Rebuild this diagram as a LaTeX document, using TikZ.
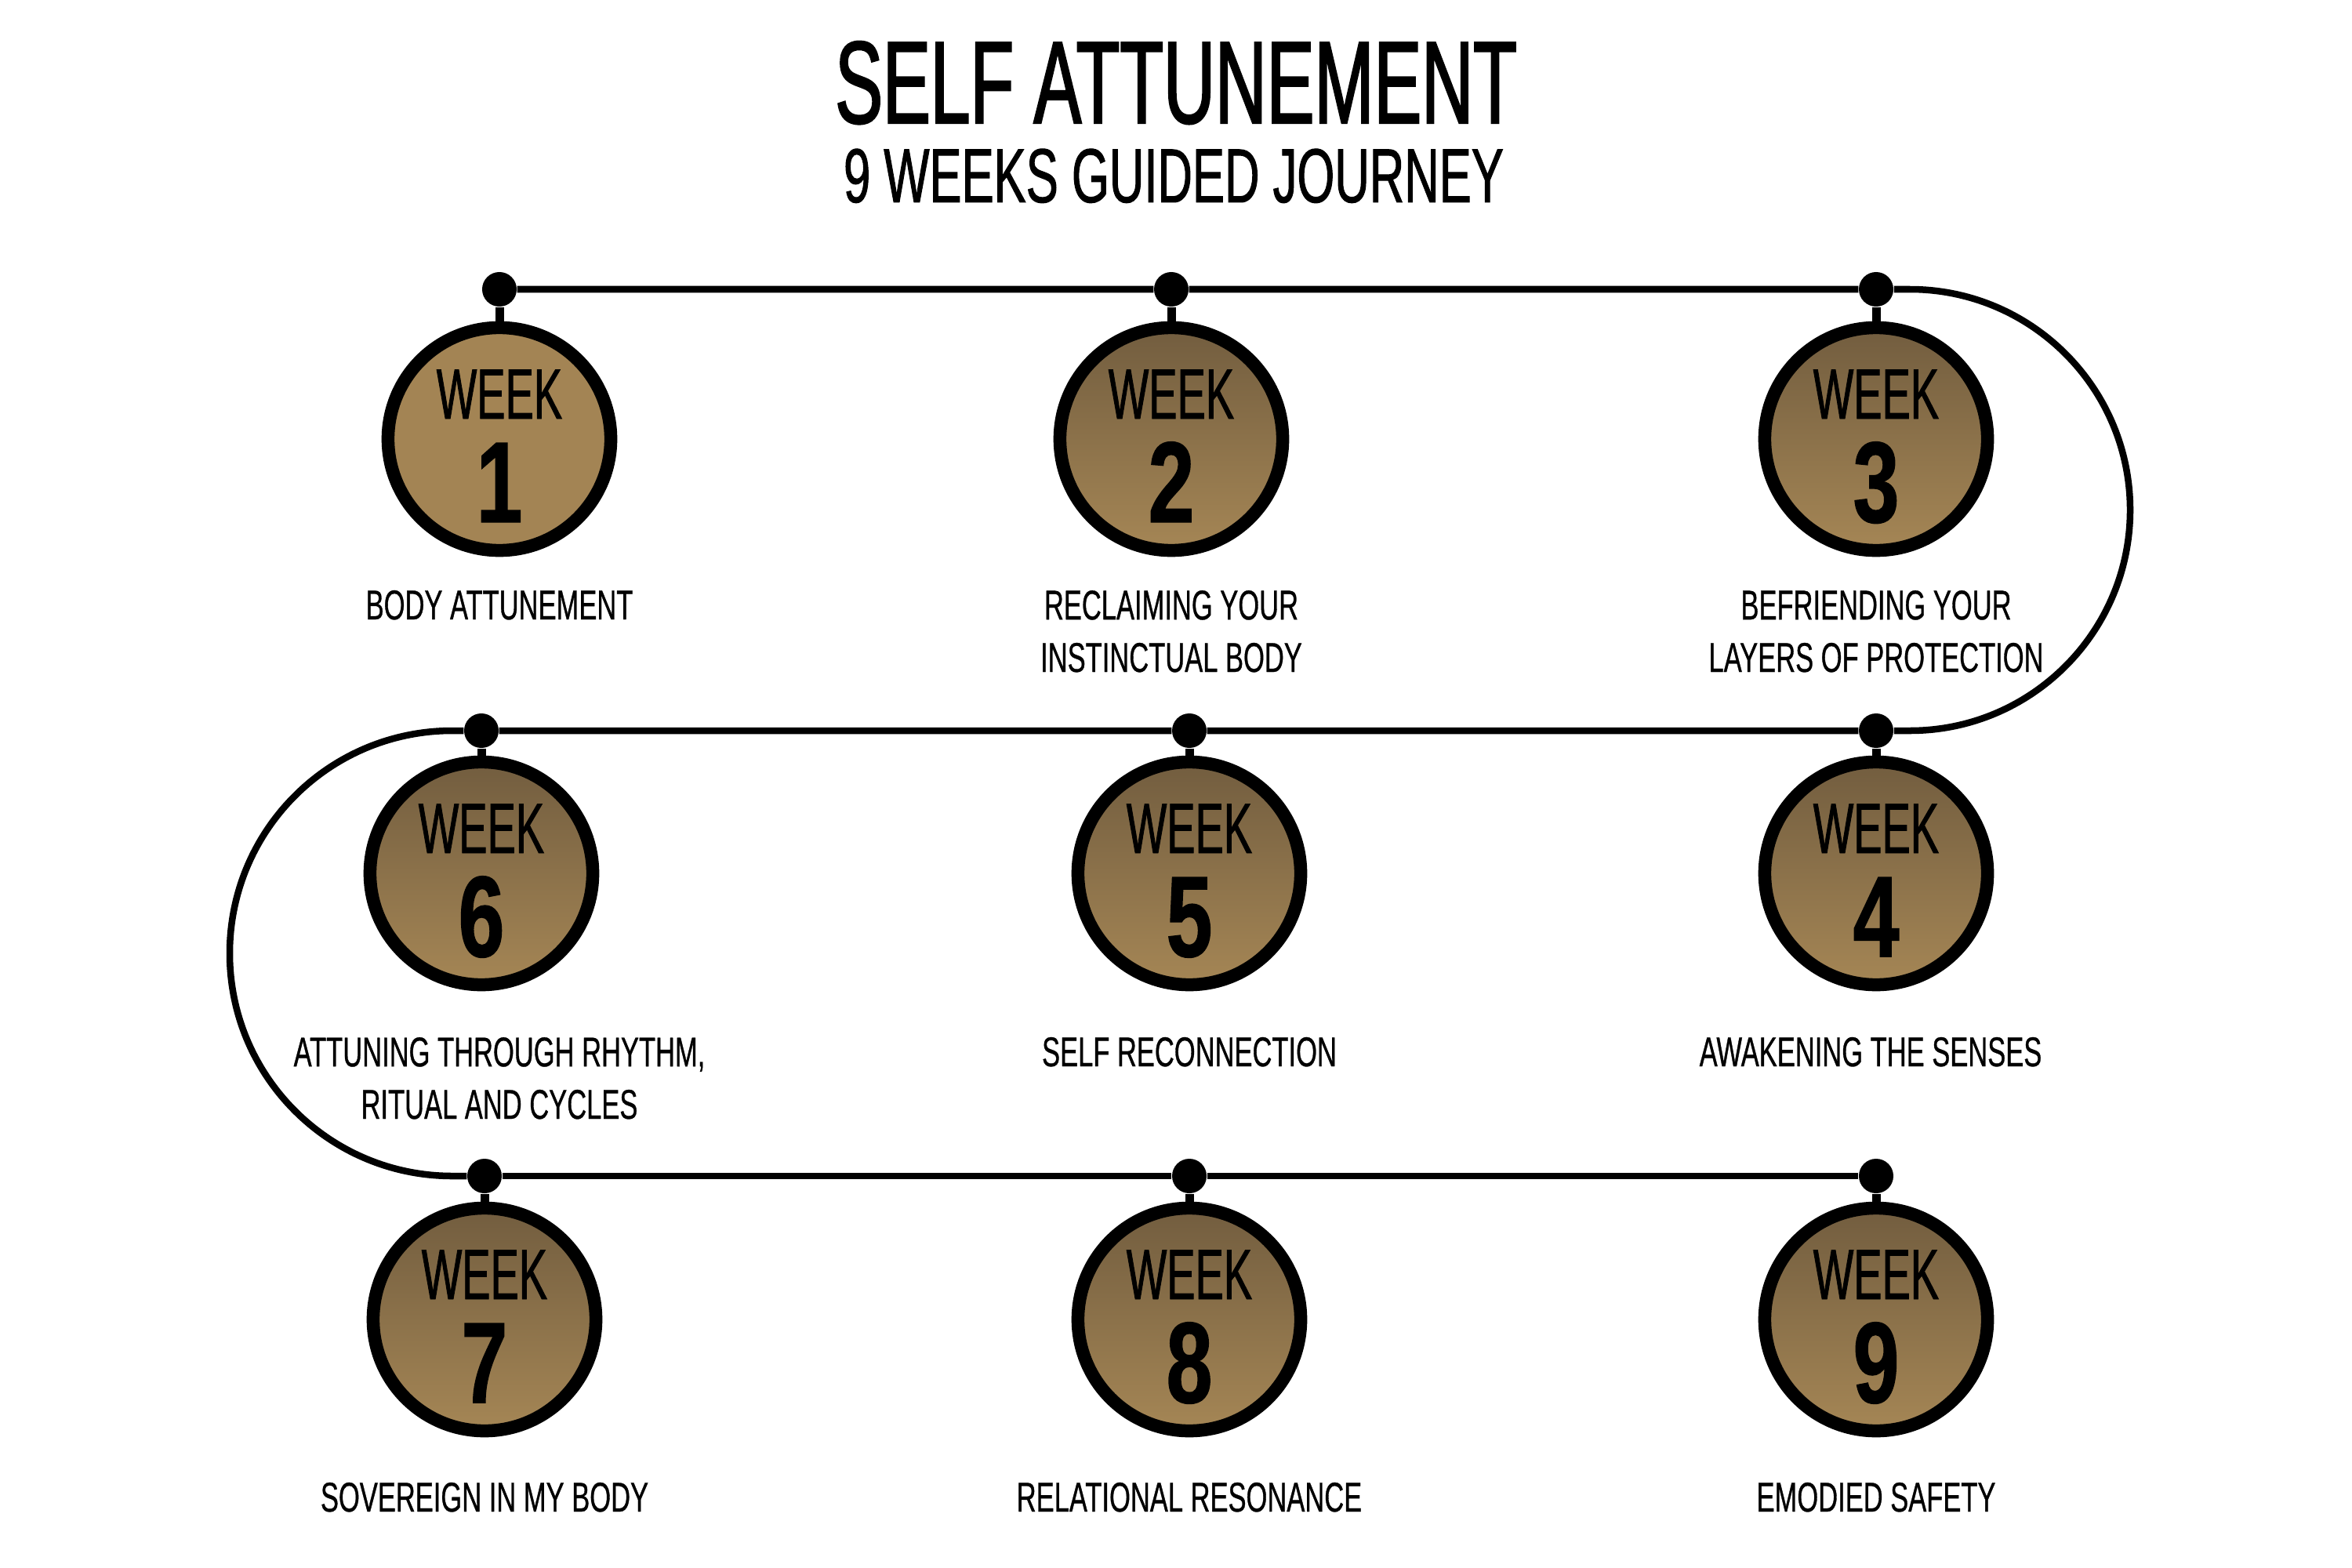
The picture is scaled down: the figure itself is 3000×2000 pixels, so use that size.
\documentclass[tikz,border=0pt]{standalone}
\usepackage{fontspec}
\setmainfont{Liberation Sans}
\newfontfamily\titlefont[FakeStretch=0.61,FakeBold=1.5]{Liberation Sans}
\newfontfamily\subfont[FakeStretch=0.63,FakeBold=1]{Liberation Sans}
\newfontfamily\weekfont[FakeStretch=0.6,FakeBold=1]{Liberation Sans}
\newfontfamily\numfont[FakeStretch=0.72,FakeBold=1]{Liberation Sans}
\newfontfamily\labfont[FakeStretch=0.65,FakeBold=0.6]{Liberation Sans}
\definecolor{wktop}{HTML}{725D3F}
\definecolor{wkbot}{HTML}{A58655}
\definecolor{wkflat}{HTML}{A38454}
\tikzset{
  dotn/.style={circle, fill=black, inner sep=0pt, minimum size=0.44cm},
  wkc/.style={circle, draw=black, line width=0.165cm, minimum size=2.84cm, inner sep=0pt},
  grad/.style={top color=wktop, bottom color=wkbot},
  flat/.style={fill=wkflat},
  stem/.style={line width=0.11cm},
  road/.style={line width=0.085cm},
  wkt/.style={anchor=base, inner sep=0pt, font=\weekfont\fontsize{25.8}{30}\selectfont},
  wkn/.style={anchor=base, inner sep=0pt, font=\numfont\bfseries\fontsize{41.7}{48}\selectfont},
  lab/.style={anchor=base, inner sep=0pt, align=center, font=\labfont\fontsize{15.1}{19}\selectfont},
}
\newcommand\mkweek[6]{%
  \node[dotn] (d#1) at (#2,#3) {};
  \node[wkc,#5] (c#1) at (#2,#4) {};
  \draw[stem] (d#1) -- (c#1);
  \node[wkt] (t#1) at (#2,#4-26) {WEEK};
  \node[wkn] (n#1) at (#2,#4+106) {#1};
}
\begin{document}
\begin{tikzpicture}[x=0.01cm,y=-0.01cm]
\useasboundingbox[fill=white] (0,0) rectangle (3000,2000);
\node[anchor=base, inner sep=0pt, font=\titlefont\fontsize{42.5}{50}\selectfont] (title) at (1500,157) {SELF ATTUNEMENT};
\node[anchor=base, inner sep=0pt, font=\subfont\fontsize{27.8}{32}\selectfont] (subtitle) at (1497,258) {9 WEEKS GUIDED JOURNEY};
% row 1
\mkweek{1}{637}{369}{560}{flat}{}
\mkweek{2}{1494}{369}{560}{grad}{}
\mkweek{3}{2393}{369}{560}{grad}{}
% row 2
\mkweek{6}{614}{932}{1114}{grad}{}
\mkweek{5}{1517}{932}{1114}{grad}{}
\mkweek{4}{2393}{932}{1114}{grad}{}
% row 3
\mkweek{7}{618}{1500}{1683}{grad}{}
\mkweek{8}{1517}{1500}{1683}{grad}{}
\mkweek{9}{2393}{1500}{1683}{grad}{}
% labels (anchor base = baseline of the last line)
\node[lab] (l1) at (637,790) {BODY ATTUNEMENT};
\node[lab] (l2) at (1494,857) {RECLAIMING YOUR\\INSTINCTUAL BODY};
\node[lab] (l3) at (2393,857) {BEFRIENDING YOUR\\LAYERS OF PROTECTION};
\node[lab] (l6) at (637,1427) {ATTUNING THROUGH RHYTHM,\\RITUAL AND CYCLES};
\node[lab] (l5) at (1517,1360) {SELF RECONNECTION};
\node[lab] (l4) at (2386,1360) {AWAKENING THE SENSES};
\node[lab] (l7) at (618,1928) {SOVEREIGN IN MY BODY};
\node[lab] (l8) at (1517,1928) {RELATIONAL RESONANCE};
\node[lab] (l9) at (2393,1928) {EMODIED SAFETY};
% path
\coordinate (rt) at (2436,369);
\coordinate (rm) at (2717,650.5);
\coordinate (rb) at (2436,932);
\coordinate (lt) at (577,932);
\coordinate (lm) at (293,1216);
\coordinate (lb) at (577,1500);
\draw[road] (d1) -- (d2) -- (d3) -- (rt)
  .. controls (2591,369) and (2717,495) .. (rm)
  .. controls (2717,806) and (2591,932) .. (rb) -- (d4);
\draw[road] (d4) -- (d5) -- (d6) -- (lt)
  .. controls (420,932) and (293,1059) .. (lm)
  .. controls (293,1373) and (420,1500) .. (lb) -- (d7);
\draw[road] (d7) -- (d8) -- (d9);
\end{tikzpicture}
\end{document}
